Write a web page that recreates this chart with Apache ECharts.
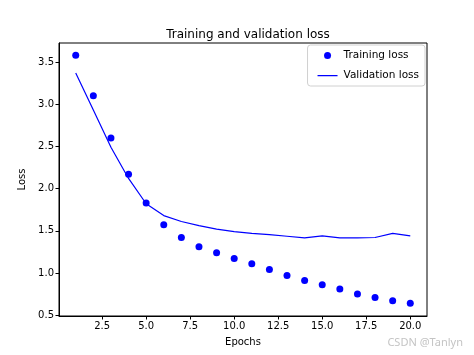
<!DOCTYPE html>
<html>
<head>
<meta charset="utf-8">
<script src="https://cdn.jsdelivr.net/npm/echarts@6/dist/echarts.min.js"></script>
<style>html,body{margin:0;padding:0;background:#fff}#c{width:474px;height:355px}</style>
</head>
<body>
<div id="c"></div>
<script>
var epochs = [1,2,3,4,5,6,7,8,9,10,11,12,13,14,15,16,17,18,19,20];
var trainingLoss = [3.58,3.10,2.60,2.17,1.83,1.57,1.42,1.31,1.24,1.17,1.11,1.04,0.97,0.91,0.86,0.81,0.75,0.71,0.67,0.64];
var validationLoss = [3.37,2.93,2.49,2.12,1.82,1.68,1.61,1.56,1.52,1.49,1.47,1.455,1.435,1.415,1.44,1.415,1.415,1.42,1.47,1.44];
var xTicks = [2.5,5.0,7.5,10.0,12.5,15.0,17.5,20.0];
var yTicks = [0.5,1.0,1.5,2.0,2.5,3.0,3.5];

var font = 'DejaVu Sans';
var lineIcon = 'path://M0,0L0.01,0L0,0.01Z M0,3H20V4.3H0Z M20,7L19.99,7L20,6.99Z';
var chart = echarts.init(document.getElementById('c'), null, {renderer:'canvas'});
chart.setOption({
  animation: false,
  backgroundColor: '#fff',
  title: {
    text: 'Training and validation loss',
    left: 243, textAlign: 'center', top: 24,
    textStyle: {fontFamily: font, fontSize: 12, fontWeight: 'normal', color: '#000'}
  },
  legend: {
    orient: 'vertical', right: 49, top: 45,
    backgroundColor: '#fff', borderColor: '#d0d0d0', borderWidth: 1, borderRadius: 3,
    padding: [5, 6, 5, 10],
    itemWidth: 20, itemHeight: 7, itemGap: 9,
    itemStyle: {borderWidth: 0, opacity: 1},
    textStyle: {fontFamily: font, fontSize: 10.5, color: '#000', padding: [0,0,0,1]},
    data: [{name: 'Training loss', icon: 'circle'}, {name: 'Validation loss', icon: lineIcon}]
  },
  grid: {
    left: 59, right: 47, top: 43, bottom: 39,
    show: true, borderColor: '#000', borderWidth: 1, backgroundColor: '#fff'
  },
  xAxis: {
    type: 'value', min: 0.05, max: 20.95,
    name: 'Epochs', nameLocation: 'middle', nameGap: 21,
    nameTextStyle: {fontFamily: font, fontSize: 10, color: '#000'},
    axisLine: {show: true, lineStyle: {color: '#000', width: 1}},
    splitLine: {show: false},
    axisTick: {show: true, length: 3.5, lineStyle: {color: '#000'}, customValues: xTicks},
    axisLabel: {fontFamily: font, fontSize: 10, color: '#000', margin: 5, customValues: xTicks,
      formatter: function(v){return v.toFixed(1);}}
  },
  yAxis: {
    type: 'value', min: 0.49, max: 3.725,
    name: 'Loss', nameLocation: 'middle', nameGap: 31, nameRotate: 90,
    nameTextStyle: {fontFamily: font, fontSize: 10, color: '#000'},
    axisLine: {show: true, lineStyle: {color: '#000', width: 1}},
    splitLine: {show: false},
    axisTick: {show: true, length: 3.5, lineStyle: {color: '#000'}, customValues: yTicks},
    axisLabel: {fontFamily: font, fontSize: 10, color: '#000', margin: 5, customValues: yTicks,
      formatter: function(v){return v.toFixed(1);}}
  },
  series: [
    {
      name: 'Training loss', type: 'scatter', symbol: 'circle', symbolSize: 7,
      itemStyle: {color: '#0000ff', opacity: 1},
      data: epochs.map(function(e,i){return [e, trainingLoss[i]];})
    },
    {
      name: 'Validation loss', type: 'line', symbol: 'none', showSymbol: false,
      lineStyle: {color: '#0000ff', width: 1.2}, itemStyle: {color: '#0000ff'},
      data: epochs.map(function(e,i){return [e, validationLoss[i]];})
    }
  ],
  graphic: [{
    type: 'text', right: 11, bottom: 7,
    style: {text: 'CSDN @Tanlyn', fill: '#c4c4c4', font: '11px "Noto Sans", sans-serif'}
  }]
});
</script>
</body>
</html>
